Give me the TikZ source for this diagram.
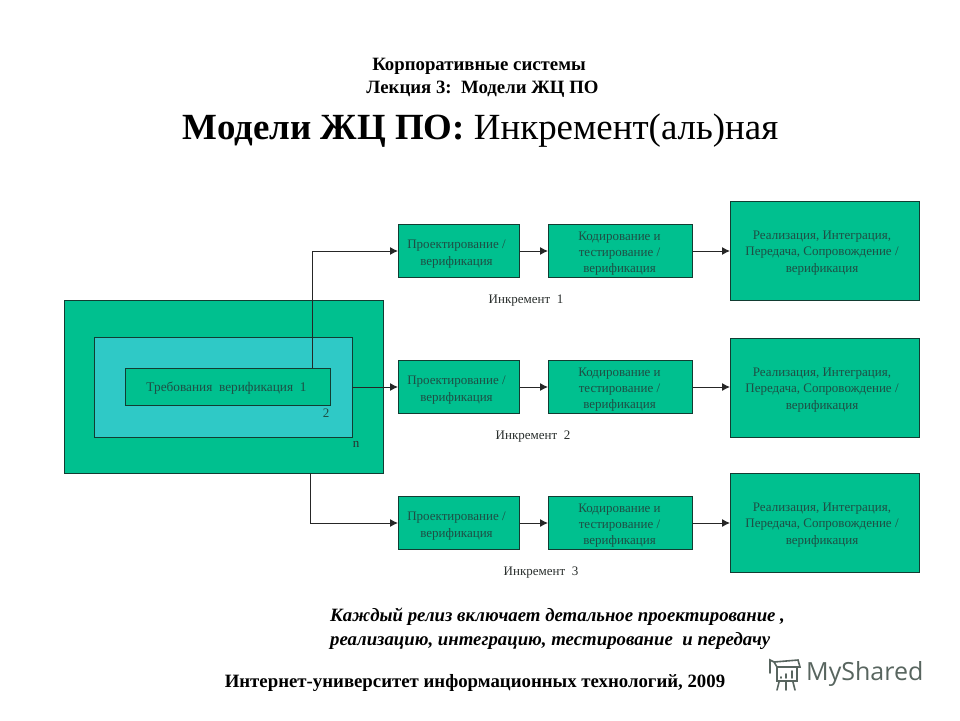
\documentclass[tikz,border=0pt]{standalone}
\usepackage{fontspec}
\setmainfont{Liberation Serif}
\newfontfamily\wmfont{Open Sans}
\usetikzlibrary{arrows.meta}
\definecolor{grn}{HTML}{00C08F}
\definecolor{cyn}{HTML}{2FC9C6}
\definecolor{edge}{HTML}{123C32}
\definecolor{boxtxt}{HTML}{1E4F45}
\definecolor{outtxt}{HTML}{2A2F2D}
\definecolor{wm}{HTML}{58655F}
\tikzset{
  flow/.style={draw=edge,line width=1pt,fill=grn},
  boxlabel/.style={font=\fontsize{13}{16.2}\selectfont,text=boxtxt,align=center,inner sep=0pt},
  plainlabel/.style={font=\fontsize{13}{16}\selectfont,text=boxtxt,inner sep=0pt},
  outlabel/.style={font=\fontsize{13}{16}\selectfont,text=outtxt,inner sep=0pt},
  head/.style={font=\fontsize{18.8}{23}\selectfont\bfseries,text=black,inner sep=0pt,align=center},
  note/.style={font=\fontsize{18.8}{24}\selectfont\bfseries\itshape,text=black,inner sep=0pt,align=left,anchor=north west},
  conn/.style={draw=black!85,line width=1pt,-{Latex[length=8pt,width=8pt]}},
}
\begin{document}
\begin{tikzpicture}[x=1pt,y=-1pt]
\useasboundingbox[fill=white] (0,0) rectangle (960,720);
% headings
\node[head] (h1) at (479,66.5) {Корпоративные системы};
\node[head] (h2) at (482.5,89) {Лекция 3:\ \ Модели ЖЦ ПО};
\node[inner sep=0pt,text=black] (title) at (480.5,130.5) {\fontsize{36.9}{40}\selectfont\textbf{Модели ЖЦ ПО:} Инкремент(аль)ная};
% nested requirement boxes
\draw[flow] (64,300) rectangle (383,473);
\draw[flow,fill=cyn] (94,337) rectangle (352,437);
\node[flow,minimum width=205pt,minimum height=37pt,inner sep=0pt,anchor=north west] (req) at (125,368) {};
\coordinate (outer) at (310,473);
\coordinate (mid) at (352,387);
\coordinate (reqtop) at (312,368);
\node[plainlabel,font=\fontsize{13.3}{16}\selectfont] (reqt) at (226.5,388.5) {Требования\ \ верификация\ \ 1};
\node[plainlabel] (two) at (326,413) {2};
\node[outlabel] (en) at (356,444) {n};
% rows
\foreach \r/\d/\i/\lab/\lx/\ly in {a/224/201/1/526/300.5, b/360/338/2/533/436.5, c/496/473/3/541/572.5}{
  \node[flow,anchor=north west,minimum width=121pt,minimum height=53pt,inner sep=0pt] (d\r) at (398,\d) {};
  \node[boxlabel] (dt\r) at (456.5,\d+30) {Проектирование /\\верификация};
  \node[flow,anchor=north west,minimum width=144pt,minimum height=53pt,inner sep=0pt] (k\r) at (548,\d) {};
  \node[boxlabel] (kt\r) at (619.5,\d+29.5) {Кодирование и\\тестирование /\\верификация};
  \node[flow,anchor=north west,minimum width=189pt,minimum height=99pt,inner sep=0pt] (p\r) at (730,\i) {};
  \node[boxlabel] (pt\r) at (822,\i+52) {Реализация, Интеграция,\\Передача, Сопровождение /\\верификация};
  \node[outlabel] (l\r) at (\lx,\ly) {Инкремент\ \ \lab};
  \draw[conn] (d\r) -- (k\r);
  \draw[conn] (k\r.east) -- (k\r.east -| p\r.west);
}
\draw[conn] (reqtop) |- (da.west);
\draw[conn] (mid) -- (db.west);
\draw[conn] (outer) |- (dc.west);
% notes
\node[note] (n1) at (330,608) {Каждый релиз включает детальное проектирование ,\\реализацию, интеграцию, тестирование\ \ и передачу};
\node[head] (foot) at (475,682.5) {Интернет-университет информационных технологий, 2009};
% watermark
\node[inner sep=0pt,text=wm,anchor=west] (wmt) at (806,674) {\wmfont\fontsize{25}{28}\selectfont MyShared};
\begin{scope}[draw=wm,line width=1.6pt,line cap=round]
\draw (774,662) -- (798,660) -- (800,667) -- (777,667) -- (774,662) -- (770,660) -- (770,673);
\draw (777,667) -- (777,681) -- (797,681) -- (797,667);
\draw (781,678) -- (781,677) (786,678) -- (786,674) (792,678) -- (792,671);
\draw (779,682) -- (777,690) (786,682) -- (786,690) (793,682) -- (795,690);
\end{scope}
\end{tikzpicture}
\end{document}
